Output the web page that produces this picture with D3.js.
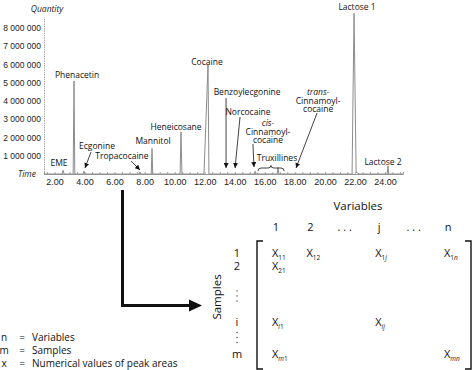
<html lang="en">
<head>
<meta charset="UTF-8">
<title>Chromatogram to data matrix</title>
<style>
    body { margin: 0; background: #fff; }
    svg { font-family: "Open Sans", "Noto Sans", sans-serif; }
</style>
</head>
<body>
<div id="graph"></div>
<script src="https://d3js.org/d3.v7.min.js"></script>
<script>
    // chromatogram trace (time in min, quantity)
    var chromTime = [1.3, 2.5, 2.57, 2.64, 3.24, 3.30, 3.35, 3.9, 3.96, 4.02, 7.63, 7.69, 7.75,
                     8.44, 8.49, 8.54, 10.36, 10.42, 10.48, 11.95, 12.22, 12.28, 15.3, 15.35, 15.4,
                     16.82, 16.88, 16.94, 21.81, 21.94, 22.08, 22.3, 24.15, 24.2, 24.25, 25.2];
    var chromQty = [0, 0, 200000, 0, 0, 5100000, 0, 0, 150000, 0, 0, 120000, 0,
                    0, 1400000, 0, 0, 2300000, 0, 0, 6000000, 0, 0, 150000, 0,
                    0, 350000, 0, 0, 8800000, 100000, 0, 0, 450000, 0, 0];

    var xTicks = [2, 4, 6, 8, 10, 12, 14, 16, 18, 20, 22, 24];
    var yTicks = [1000000, 2000000, 3000000, 4000000, 5000000, 6000000, 7000000, 8000000];

    // peak labels: text lines, label anchor (time, qty), optional arrow from/to
    var peakLabels = [
        { lines: ["EME"], t: 2.30, q: 600000 },
        { lines: ["Phenacetin"], t: 3.50, q: 5420000 },
        { lines: ["Ecgonine"], t: 4.83, q: 1530000, arrow: [[4.43, 1200000], [4.03, 330000]] },
        { lines: ["Tropacocaine"], t: 6.49, q: 990000, arrow: [[7.09, 710000], [7.69, 220000]] },
        { lines: ["Mannitol"], t: 8.56, q: 1810000 },
        { lines: ["Heneicosane"], t: 10.09, q: 2570000 },
        { lines: ["Cocaine"], t: 12.15, q: 6130000 },
        { lines: ["Benzoylecgonine"], t: 14.82, q: 4490000, arrow: [[13.42, 4160000], [13.42, 330000]] },
        { lines: ["Norcocaine"], t: 14.88, q: 3400000, arrow: [[14.35, 3120000], [14.02, 330000]] },
        { lines: ["cis-", "Cinnamoyl-", "cocaine"], t: 16.21, q: 2790000, arrow: [[15.21, 1640000], [15.28, 380000]] },
        { lines: ["Truxillines"], t: 16.81, q: 880000 },
        { lines: ["trans-", "Cinnamoyl-", "cocaine"], t: 19.55, q: 4490000, arrow: [[19.48, 3340000], [18.08, 330000]] },
        { lines: ["Lactose 1"], t: 22.14, q: 9130000 },
        { lines: ["Lactose 2"], t: 23.87, q: 660000 }
    ];
    var truxBrace = [15.55, 16.41, 17.28];

    // data matrix
    var colLabels = ["1", "2", ". . .", "j", ". . .", "n"];
    var rowLabels = ["1", "2", "", "i", "", "m"];
    var rowSlots = [0, 1, 3.3, 5.3, 6.5, 7.8];
    var cells = [
        { r: 0, c: 0, sub: "11" }, { r: 0, c: 1, sub: "12" }, { r: 0, c: 3, sub: "1", it: "j" },
        { r: 0, c: 5, sub: "1", it: "n" }, { r: 1, c: 0, sub: "21" },
        { r: 3, c: 0, it: "i", sub: "1" }, { r: 3, c: 3, it: "ij" },
        { r: 5, c: 0, it: "m", sub: "1" }, { r: 5, c: 5, it: "mn" }
    ];
    var legendKeys = ["n", "m", "x"];
    var legendText = ["Variables", "Samples", "Numerical values of peak areas"];

    var svg = d3.select("#graph").append("svg")
        .attr("width", 474)
        .attr("height", 370);

    svg.append("defs").append("marker")
        .attr("id", "head")
        .attr("viewBox", "0 0 10 10")
        .attr("refX", 10).attr("refY", 5)
        .attr("markerWidth", 5).attr("markerHeight", 5)
        .attr("markerUnits", "userSpaceOnUse")
        .attr("orient", "auto")
        .append("path").attr("d", "M0,0L10,5L0,10Z").attr("fill", "#111");

    // scales
    var x = d3.scaleLinear().domain([1.3, 25.2]).range([44, 403]);
    var y = d3.scaleLinear().domain([0, 8600000]).range([174, 17]);

    // axes
    var fmtQ = function(d) { return d3.format(",")(d).replace(/,/g, " "); };
    var yAxis = svg.append("g")
        .attr("transform", "translate(" + x(1.3) + ",0)")
        .call(d3.axisLeft(y).tickValues(yTicks).tickFormat(fmtQ).tickSize(0).tickPadding(3));
    yAxis.select(".domain").attr("stroke", "#aaa").attr("stroke-dasharray", "1.5,0.8");
    yAxis.selectAll("text").attr("font-size", "8.5px").attr("fill", "#222");

    svg.append("g")
        .attr("transform", "translate(0," + y(0) + ")")
        .call(d3.axisBottom(x).tickValues(d3.range(1.5, 25.2, 0.5)).tickSize(-2).tickFormat(""))
        .call(function(g) {
            g.select(".domain").attr("stroke", "#999");
            g.selectAll(".tick line").attr("stroke", "#aaa");
        });
    var xAxis = svg.append("g")
        .attr("transform", "translate(0," + y(0) + ")")
        .call(d3.axisBottom(x).tickValues(xTicks).tickFormat(d3.format(".2f")).tickSize(0).tickPadding(5));
    xAxis.select(".domain").remove();
    xAxis.selectAll("text").attr("font-size", "9px").attr("fill", "#222");

    svg.append("text").attr("x", 47).attr("y", 12)
        .attr("text-anchor", "middle").attr("font-size", "8.5px").attr("font-style", "italic")
        .attr("fill", "#222").text("Quantity");
    svg.append("text").attr("x", 36).attr("y", y(0)).attr("dy", "0.35em")
        .attr("text-anchor", "end").attr("font-size", "8.5px").attr("font-style", "italic")
        .attr("fill", "#222").text("Time");

    // trace
    var line = d3.line()
        .x(function(d, i) { return x(chromTime[i]); })
        .y(function(d) { return y(d); });
    svg.append("path")
        .datum(chromQty)
        .attr("d", line)
        .attr("fill", "none")
        .attr("stroke", "#8c8c8c")
        .attr("stroke-width", 1);

    // peak labels, one text per line
    var lab = svg.selectAll(".peak-label")
        .data(peakLabels)
        .enter().append("g")
        .attr("class", "peak-label");
    lab.selectAll("text")
        .data(function(d) { return d.lines.map(function(s) { return { s: s, t: d.t, q: d.q }; }); })
        .enter().append("text")
        .attr("x", function(d) { return x(d.t); })
        .attr("y", function(d, i) { return y(d.q) + i * 8.6; })
        .attr("dy", "0.35em")
        .attr("text-anchor", "middle")
        .attr("font-size", "8.5px")
        .attr("font-style", function(d) { return /^(cis|trans)-$/.test(d.s) ? "italic" : null; })
        .attr("fill", "#111")
        .text(function(d) { return d.s; });

    svg.selectAll(".peak-arrow")
        .data(peakLabels.filter(function(d) { return d.arrow; }))
        .enter().append("line")
        .attr("class", "peak-arrow")
        .attr("x1", function(d) { return x(d.arrow[0][0]); })
        .attr("y1", function(d) { return y(d.arrow[0][1]); })
        .attr("x2", function(d) { return x(d.arrow[1][0]); })
        .attr("y2", function(d) { return y(d.arrow[1][1]); })
        .attr("stroke", "#111")
        .attr("stroke-width", 0.8)
        .attr("marker-end", "url(#head)");

    // Truxillines brace
    var bx0 = x(truxBrace[0]), bxm = x(truxBrace[1]), bx1 = x(truxBrace[2]), by = y(0) - 6;
    svg.append("path")
        .attr("d", "M" + bx0 + "," + (by + 3) + "Q" + bx0 + "," + by + " " + (bx0 + 3) + "," + by +
            "L" + (bxm - 3) + "," + by + "Q" + bxm + "," + by + " " + bxm + "," + (by - 2.5) +
            "Q" + bxm + "," + by + " " + (bxm + 3) + "," + by +
            "L" + (bx1 - 3) + "," + by + "Q" + bx1 + "," + by + " " + bx1 + "," + (by + 3))
        .attr("fill", "none").attr("stroke", "#111").attr("stroke-width", 0.8);

    // L-shaped arrow to the matrix
    svg.append("path")
        .attr("d", "M122.5,190V305.5H191")
        .attr("fill", "none").attr("stroke", "#111").attr("stroke-width", 3);
    svg.append("path")
        .attr("d", "M189,299.5L202,305.5L189,311.5Z")
        .attr("fill", "#111");

    // matrix
    var cx = d3.scalePoint().domain(d3.range(colLabels.length)).range([276, 448]);
    var ry = d3.scaleLinear().domain([0, 1]).range([253, 266]);

    svg.append("text").attr("x", 358).attr("y", 206).attr("dy", "0.35em")
        .attr("text-anchor", "middle").attr("font-size", "11.5px").attr("fill", "#111")
        .text("Variables");
    svg.append("text")
        .attr("transform", "translate(217,297) rotate(-90)")
        .attr("dy", "0.35em")
        .attr("text-anchor", "middle").attr("font-size", "11.5px").attr("fill", "#111")
        .text("Samples");

    svg.selectAll(".col-label")
        .data(colLabels)
        .enter().append("text")
        .attr("class", "col-label")
        .attr("x", function(d, i) { return cx(i); })
        .attr("y", 227).attr("dy", "0.35em")
        .attr("text-anchor", "middle").attr("font-size", "11px").attr("fill", "#111")
        .text(function(d) { return d; });

    svg.selectAll(".row-label")
        .data(rowLabels)
        .enter().append("text")
        .attr("class", "row-label")
        .attr("x", 237)
        .attr("y", function(d, i) { return ry(rowSlots[i]); })
        .attr("dy", "0.35em")
        .attr("text-anchor", "middle").attr("font-size", "11px").attr("fill", "#111")
        .text(function(d) { return d; });

    // vertical dots between rows
    rowLabels.forEach(function(d, i) {
        if (d) return;
        [-5, 0, 5].forEach(function(o) {
            svg.append("circle").attr("cx", 237).attr("cy", ry(rowSlots[i]) + o)
                .attr("r", 0.7).attr("fill", "#333");
        });
    });

    var cellText = svg.selectAll(".cell")
        .data(cells)
        .enter().append("text")
        .attr("class", "cell")
        .attr("x", function(d) { return cx(d.c) - 4; })
        .attr("y", function(d) { return ry(rowSlots[d.r]); })
        .attr("dy", "0.35em")
        .attr("font-size", "11px").attr("fill", "#111");
    cellText.append("tspan").text("X");
    cellText.append("tspan")
        .attr("font-size", "6.5px").attr("dy", 3)
        .each(function(d) {
            var t = d3.select(this);
            // subscripts: italic letters, upright digits
            if (d.it && d.sub && d.c === 0) {
                t.append("tspan").attr("font-style", "italic").text(d.it);
                t.append("tspan").text(d.sub);
            } else {
                if (d.sub) t.append("tspan").text(d.sub);
                if (d.it) t.append("tspan").attr("font-style", "italic").text(d.it);
            }
        });

    // brackets
    svg.append("path").attr("d", "M263,241H257V369H263")
        .attr("fill", "none").attr("stroke", "#111").attr("stroke-width", 1.4);
    svg.append("path").attr("d", "M465,241H471V369H465")
        .attr("fill", "none").attr("stroke", "#111").attr("stroke-width", 1.4);

    // key
    var key = svg.selectAll(".key")
        .data(legendKeys)
        .enter().append("g")
        .attr("class", "key")
        .attr("transform", function(d, i) { return "translate(0," + (337 + i * 13) + ")"; });
    key.append("text").attr("x", 4).attr("dy", "0.35em").attr("text-anchor", "middle")
        .attr("font-size", "10px").attr("fill", "#111").text(function(d) { return d; });
    key.append("text").attr("x", 22).attr("dy", "0.35em").attr("text-anchor", "middle")
        .attr("font-size", "10px").attr("fill", "#111").text("=");
    key.append("text").attr("x", 32).attr("dy", "0.35em")
        .attr("font-size", "10px").attr("fill", "#111")
        .text(function(d, i) { return legendText[i]; });
</script>
</body>
</html>
